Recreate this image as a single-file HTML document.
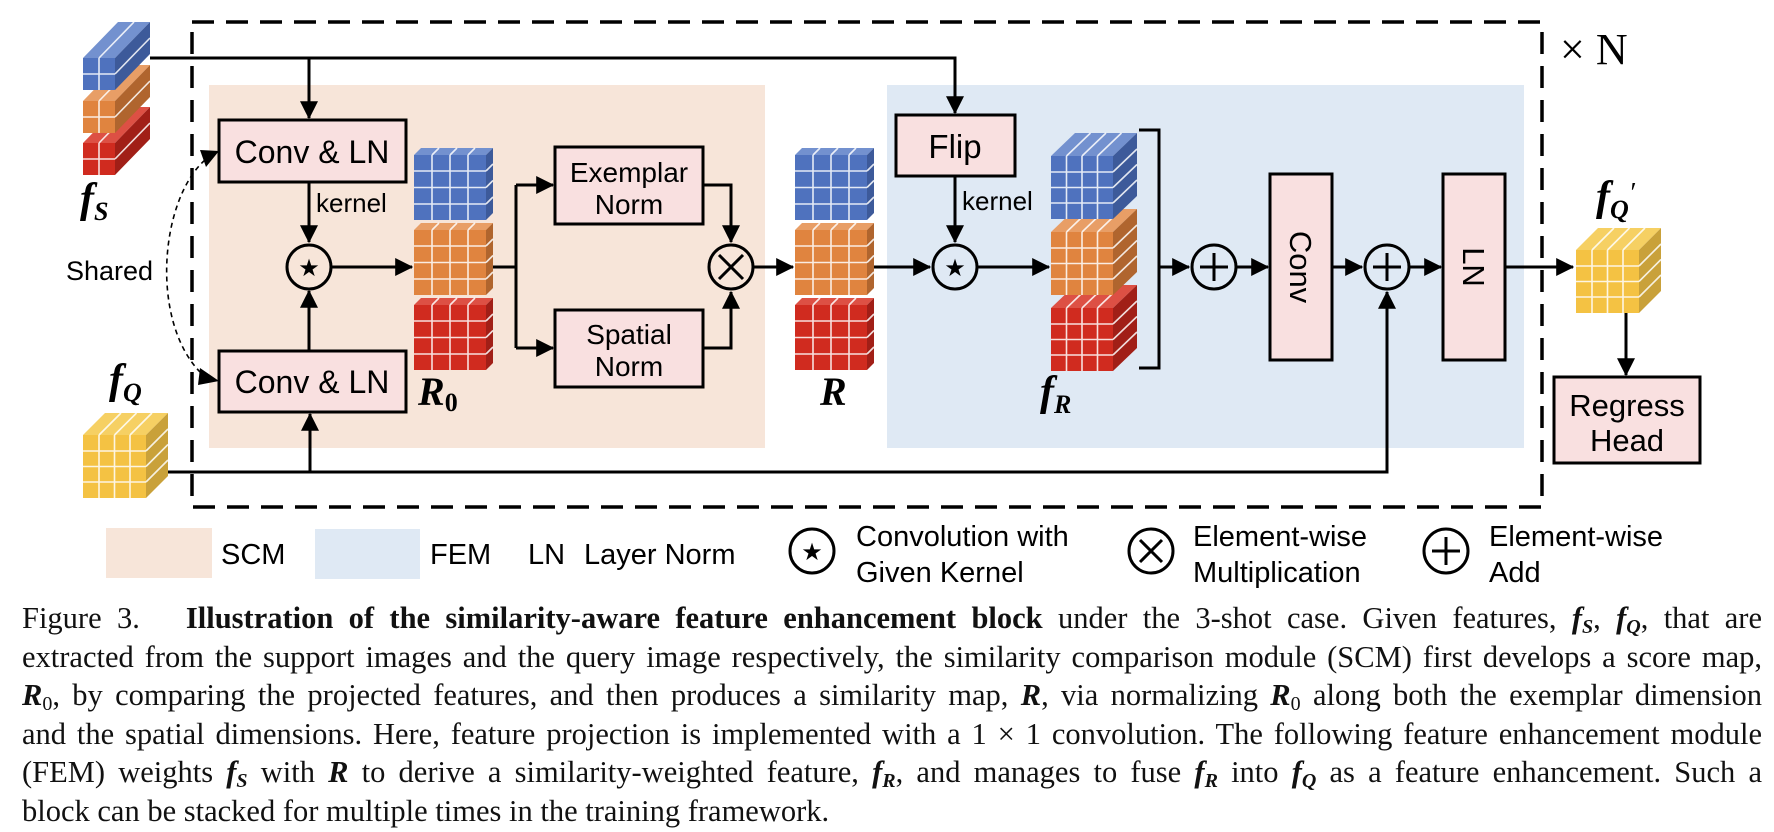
<!DOCTYPE html>
<html><head><meta charset="utf-8">
<style>
html,body{margin:0;padding:0;background:#fff;}
body{width:1774px;height:832px;position:relative;overflow:hidden;}
svg{position:absolute;left:0;top:0;}
.cap{position:absolute;left:22px;top:599px;width:1740px;font-family:"Liberation Serif",serif;font-size:30.5px;line-height:38.5px;color:#111;}
.cap div{text-align:justify;text-align-last:justify;height:38.5px;white-space:nowrap;}
.cap div.last{text-align-last:left;}
.m{font-weight:bold;font-style:italic;}
.cap sub{font-size:20px;vertical-align:-5px;line-height:0;}
</style></head><body>
<svg width="1774" height="832" viewBox="0 0 1774 832" xmlns="http://www.w3.org/2000/svg">
<defs>
<marker id="ah" markerWidth="6" markerHeight="6" refX="5.6" refY="3" orient="auto" markerUnits="strokeWidth">
<path d="M0,0 L6,3 L0,6 z" fill="#000"/></marker>
<g id="sc">
<rect x="0" y="0" width="72" height="65" style="fill:var(--f)"/>
<polygon points="0,0 7,-7 79,-7 72,0" style="fill:var(--t)"/>
<polygon points="72,0 79,-7 79,58 72,65" style="fill:var(--s)"/>
<g stroke="#fff" stroke-width="1.6" opacity="0.85">
<path d="M18,0V65M36,0V65M54,0V65M0,16H72M0,32.5H72M0,49H72M18,0l7,-7M36,0l7,-7M54,0l7,-7M72,16l7,-7M72,32.5l7,-7M72,49l7,-7"/>
</g></g>
<g id="fc">
<rect x="0" y="0" width="62" height="63" style="fill:var(--f)"/>
<polygon points="0,0 24,-23 86,-23 62,0" style="fill:var(--t)"/>
<polygon points="62,0 86,-23 86,40 62,63" style="fill:var(--s)"/>
<g stroke="#fff" stroke-width="1.6" opacity="0.85">
<path d="M15.5,0V63M31,0V63M46.5,0V63M0,16H62M0,31.5H62M0,47H62M15.5,0l24,-23M31,0l24,-23M46.5,0l24,-23M62,16l24,-23M62,31.5l24,-23M62,47l24,-23"/>
</g></g>
<g id="bc">
<rect x="0" y="0" width="32" height="32" style="fill:var(--f)"/>
<polygon points="0,0 35,-36 67,-36 32,0" style="fill:var(--t)"/>
<polygon points="32,0 67,-36 67,-4 32,32" style="fill:var(--s)"/>
<g stroke="#fff" stroke-width="1.6" opacity="0.85">
<path d="M16,0V32M0,16H32M16,0l35,-36M32,16l35,-36"/>
</g></g>
<g id="yc">
<rect x="0" y="0" width="63" height="63" fill="#f4c243"/>
<polygon points="0,0 22,-22 85,-22 63,0" fill="#f6d063"/>
<polygon points="63,0 85,-22 85,41 63,63" fill="#c9a13a"/>
<g stroke="#fff" stroke-width="1.6" opacity="0.85">
<path d="M16,0V63M31.5,0V63M47,0V63M0,16H63M0,31.5H63M0,47H63M16,0l22,-22M31.5,0l22,-22M47,0l22,-22M63,16l22,-22M63,31.5l22,-22M63,47l22,-22"/>
</g></g>
</defs>

<rect x="209" y="85" width="556" height="363" fill="#f7e5d9"/>
<rect x="887" y="85" width="637" height="363" fill="#dfe9f4"/>

<rect x="192" y="22" width="1350" height="485" fill="none" stroke="#000" stroke-width="3.5" stroke-dasharray="22,12"/>
<text x="1560" y="64" font-family="Liberation Serif,serif" font-size="44">× N</text>

<use href="#bc" x="83" y="143" style="--f:#d02b1f;--t:#dd5044;--s:#a11f17"/>
<use href="#bc" x="83" y="101" style="--f:#e0843f;--t:#e89e66;--s:#b0652e"/>
<use href="#bc" x="83" y="58" style="--f:#4f72be;--t:#7391cf;--s:#3d5a9a"/>
<text x="80" y="212" font-family="Liberation Serif,serif" font-size="42" font-weight="bold" font-style="italic">f<tspan font-size="26" dy="8">S</tspan></text>

<text x="109" y="393" font-family="Liberation Serif,serif" font-size="42" font-weight="bold" font-style="italic">f<tspan font-size="26" dy="8">Q</tspan></text>
<use href="#yc" x="83" y="435"/>

<g fill="none" stroke="#000" stroke-width="3">
<path d="M150,58 H955 V113" marker-end="url(#ah)"/>
<path d="M309,58 V118" marker-end="url(#ah)"/>
<path d="M309,182 V242" marker-end="url(#ah)"/>
<path d="M309,351 V291" marker-end="url(#ah)"/>
<path d="M168,472 H1387 V292" marker-end="url(#ah)"/>
<path d="M310,472 V414" marker-end="url(#ah)"/>
<path d="M331,267 H412" marker-end="url(#ah)"/>
<path d="M493,267 H516"/>
<path d="M516,185 V348"/>
<path d="M516,185 H553" marker-end="url(#ah)"/>
<path d="M516,348 H553" marker-end="url(#ah)"/>
<path d="M703,185 H731 V242" marker-end="url(#ah)"/>
<path d="M703,348 H731 V292" marker-end="url(#ah)"/>
<path d="M754,267 H793" marker-end="url(#ah)"/>
<path d="M874,267 H930" marker-end="url(#ah)"/>
<path d="M955,176 V242" marker-end="url(#ah)"/>
<path d="M978,267 H1049" marker-end="url(#ah)"/>
<path d="M1139,130 H1159 V368 H1139"/>
<path d="M1159,267 H1189" marker-end="url(#ah)"/>
<path d="M1237,267 H1268" marker-end="url(#ah)"/>
<path d="M1332,267 H1362" marker-end="url(#ah)"/>
<path d="M1410,267 H1441" marker-end="url(#ah)"/>
<path d="M1505,267 H1573" marker-end="url(#ah)"/>
<path d="M1626,313 V375" marker-end="url(#ah)"/>
</g>
<path d="M205,160 C160,200 150,320 200,372" fill="none" stroke="#000" stroke-width="1.6" stroke-dasharray="5,4"/>
<polygon points="219,151 200,150 206,167" fill="#000"/>
<polygon points="219,381 200,368 198,385" fill="#000"/>
<text x="66" y="280" font-family="Liberation Sans,sans-serif" font-size="27">Shared</text>

<g fill="#f9e0e0" stroke="#000" stroke-width="3">
<rect x="219" y="120" width="187" height="62"/>
<rect x="219" y="351" width="187" height="61"/>
<rect x="555" y="147" width="148" height="77"/>
<rect x="555" y="310" width="148" height="77"/>
<rect x="896" y="115" width="119" height="61"/>
<rect x="1270" y="174" width="62" height="186"/>
<rect x="1443" y="174" width="62" height="186"/>
<rect x="1554" y="377" width="146" height="86"/>
</g>
<g font-family="Liberation Sans,sans-serif" fill="#000">
<text x="312" y="163" font-size="32" text-anchor="middle">Conv &amp; LN</text>
<text x="312" y="393" font-size="32" text-anchor="middle">Conv &amp; LN</text>
<text x="629" y="182" font-size="28" text-anchor="middle">Exemplar</text>
<text x="629" y="214" font-size="28" text-anchor="middle">Norm</text>
<text x="629" y="344" font-size="28" text-anchor="middle">Spatial</text>
<text x="629" y="376" font-size="28" text-anchor="middle">Norm</text>
<text x="955" y="158" font-size="33" text-anchor="middle">Flip</text>
<text x="316" y="212" font-size="26">kernel</text>
<text x="962" y="210" font-size="26">kernel</text>
<text transform="translate(1290,267) rotate(90)" font-size="31" text-anchor="middle">Conv</text>
<text transform="translate(1463,267) rotate(90)" font-size="31" text-anchor="middle">LN</text>
<text x="1627" y="416" font-size="31" text-anchor="middle">Regress</text>
<text x="1627" y="451" font-size="31" text-anchor="middle">Head</text>
</g>

<g fill="none" stroke="#000" stroke-width="3">
<circle cx="309" cy="267" r="22"/>
<circle cx="731" cy="267" r="22"/>
<circle cx="955" cy="267" r="22"/>
<circle cx="1214" cy="267" r="22"/>
<circle cx="1387" cy="267" r="22"/>
<path d="M719,255 L743,279 M743,255 L719,279"/>
<path d="M1214,253 V281 M1200,267 H1228"/>
<path d="M1387,253 V281 M1373,267 H1401"/>
</g>
<g font-family="DejaVu Sans,sans-serif" font-size="24" text-anchor="middle">
<text x="309" y="276">★</text>
<text x="955" y="276">★</text>
</g>

<use href="#sc" x="414" y="305" style="--f:#d02b1f;--t:#dd5044;--s:#a11f17"/>
<use href="#sc" x="414" y="230" style="--f:#e0843f;--t:#e89e66;--s:#b0652e"/>
<use href="#sc" x="414" y="155" style="--f:#4f72be;--t:#7391cf;--s:#3d5a9a"/>
<text x="418" y="405" font-family="Liberation Serif,serif" font-size="40" font-weight="bold" font-style="italic">R<tspan font-size="26" dy="6" font-style="normal">0</tspan></text>
<use href="#sc" x="795" y="305" style="--f:#d02b1f;--t:#dd5044;--s:#a11f17"/>
<use href="#sc" x="795" y="230" style="--f:#e0843f;--t:#e89e66;--s:#b0652e"/>
<use href="#sc" x="795" y="155" style="--f:#4f72be;--t:#7391cf;--s:#3d5a9a"/>
<text x="820" y="405" font-family="Liberation Serif,serif" font-size="40" font-weight="bold" font-style="italic">R</text>
<use href="#fc" x="1051" y="308" style="--f:#d02b1f;--t:#dd5044;--s:#a11f17"/>
<use href="#fc" x="1051" y="232" style="--f:#e0843f;--t:#e89e66;--s:#b0652e"/>
<use href="#fc" x="1051" y="156" style="--f:#4f72be;--t:#7391cf;--s:#3d5a9a"/>
<text x="1040" y="405" font-family="Liberation Serif,serif" font-size="42" font-weight="bold" font-style="italic">f<tspan font-size="26" dy="8">R</tspan></text>
<use href="#yc" x="1576" y="250"/>
<text x="1596" y="210" font-family="Liberation Serif,serif" font-size="42" font-weight="bold" font-style="italic">f<tspan font-size="26" dy="8">Q</tspan><tspan dy="-16" font-size="28" font-weight="normal">′</tspan></text>

<rect x="106" y="528" width="106" height="50" fill="#f7e5d9"/>
<rect x="315" y="529" width="105" height="50" fill="#dfe9f4"/>
<g font-family="Liberation Sans,sans-serif" font-size="29">
<text x="221" y="564">SCM</text>
<text x="430" y="564">FEM</text>
<text x="528" y="564">LN</text>
<text x="584" y="564">Layer Norm</text>
<text x="856" y="546">Convolution with</text>
<text x="856" y="582">Given Kernel</text>
<text x="1193" y="546">Element-wise</text>
<text x="1193" y="582">Multiplication</text>
<text x="1489" y="546">Element-wise</text>
<text x="1489" y="582">Add</text>
</g>
<g fill="none" stroke="#000" stroke-width="3">
<circle cx="812" cy="551" r="22"/>
<circle cx="1151" cy="551" r="22"/>
<circle cx="1446" cy="551" r="22"/>
<path d="M1140,540 L1162,562 M1162,540 L1140,562"/>
<path d="M1446,537 V565 M1432,551 H1460"/>
</g>
<text x="812" y="560" font-family="DejaVu Sans,sans-serif" font-size="24" text-anchor="middle">★</text>
</svg>

<div class="cap">
<div>Figure 3.&nbsp;&nbsp; <b>Illustration of the similarity-aware feature enhancement block</b> under the 3-shot case. Given features, <span class="m">f</span><sub class="m">S</sub>, <span class="m">f</span><sub class="m">Q</sub>, that are</div>
<div>extracted from the support images and the query image respectively, the similarity comparison module (SCM) first develops a score map,</div>
<div><span class="m">R</span><sub>0</sub>, by comparing the projected features, and then produces a similarity map, <span class="m">R</span>, via normalizing <span class="m">R</span><sub>0</sub> along both the exemplar dimension</div>
<div>and the spatial dimensions. Here, feature projection is implemented with a 1 × 1 convolution. The following feature enhancement module</div>
<div>(FEM) weights <span class="m">f</span><sub class="m">S</sub> with <span class="m">R</span> to derive a similarity-weighted feature, <span class="m">f</span><sub class="m">R</sub>, and manages to fuse <span class="m">f</span><sub class="m">R</sub> into <span class="m">f</span><sub class="m">Q</sub> as a feature enhancement. Such a</div>
<div class="last">block can be stacked for multiple times in the training framework.</div>
</div>
</body></html>
